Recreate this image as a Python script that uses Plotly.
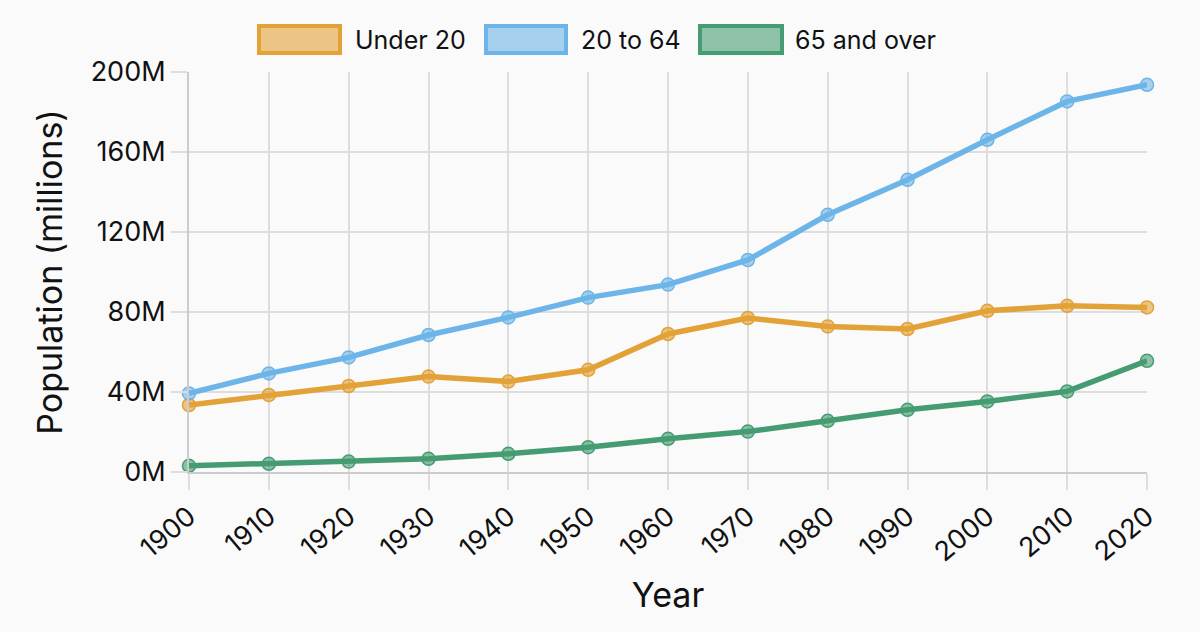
import plotly.graph_objects as go

years = [1900, 1910, 1920, 1930, 1940, 1950, 1960, 1970, 1980, 1990, 2000, 2010, 2020]
under_20 = [33.5, 38.5, 43.0, 47.7, 45.2, 51.1, 69.0, 77.0, 72.8, 71.5, 80.6, 83.1, 82.3]
age_20_64 = [39.3, 49.3, 57.3, 68.5, 77.3, 87.2, 93.7, 106.0, 128.6, 146.1, 166.1, 185.3, 193.6]
over_65 = [3.1, 4.1, 5.2, 6.6, 9.1, 12.4, 16.6, 20.2, 25.6, 31.1, 35.3, 40.3, 55.6]

series_names = ["Under 20", "20 to 64", "65 and over"]
y_tick_vals = [0, 40, 80, 120, 160, 200]
y_tick_text = ["0M", "40M", "80M", "120M", "160M", "200M"]
x_tick_vals = years
x_tick_text = [str(y) for y in years]

colors = ["#E2A237", "#6DB5E8", "#469C72"]
fills = ["rgba(226,162,55,0.6)", "rgba(109,181,232,0.6)", "rgba(70,156,114,0.6)"]

FONT = "Inter, Roboto, sans-serif"
W, H = 1200, 632
L, R, T, B = 189, 53, 72, 160
PW, PH = W - L - R, H - T - B

def px_x(px):
    return (px - L) / PW

def px_y(py):
    return (H - B - py) / PH

fig = go.Figure()
for name, vals, col, fc in zip(series_names, [under_20, age_20_64, over_65], colors, fills):
    fig.add_trace(go.Scatter(
        x=years, y=vals, name=name, mode="lines+markers",
        line=dict(color=col, width=5.5),
        marker=dict(size=13, color=fc, line=dict(color=col, width=1.5)),
        cliponaxis=False, showlegend=False,
    ))

# custom legend swatches (box style)
box_x = [(257, 342), (484, 568), (698, 784)]
text_x = [353, 579, 793]
shapes = []
annotations = []
for (x0, x1), tx, name, col, fc in zip(box_x, text_x, series_names, colors, fills):
    shapes.append(dict(type="rect", xref="paper", yref="paper",
                       x0=px_x(x0 + 2), x1=px_x(x1 - 2), y0=px_y(53), y1=px_y(26),
                       line=dict(color=col, width=4), fillcolor=fc, layer="above"))
    annotations.append(dict(xref="paper", yref="paper", x=px_x(tx), y=px_y(40),
                            xanchor="left", yanchor="middle", showarrow=False,
                            text=name, font=dict(family=FONT, size=25, color="#111")))

fig.update_layout(
    width=W, height=H,
    margin=dict(l=L, r=R, t=T, b=B),
    paper_bgcolor="#fafafa", plot_bgcolor="#fafafa",
    font=dict(family=FONT, color="#111"),
    shapes=shapes, annotations=annotations,
    showlegend=False,
)
fig.update_xaxes(
    range=[1900, 2020], tickvals=x_tick_vals, ticktext=x_tick_text,
    tickangle=-40, ticks="outside", ticklen=16, tickcolor="#dddddd", tickwidth=1.5,
    showgrid=True, gridcolor="#dddddd", gridwidth=1.5,
    showline=True, linecolor="#cccccc", linewidth=2,
    tickfont=dict(family=FONT, size=27, color="#111"),
    title=dict(text="Year", font=dict(family=FONT, size=34, color="#111"), standoff=16),
    zeroline=False, automargin=True,
)
fig.update_yaxes(
    range=[0, 200], tickvals=y_tick_vals, ticktext=y_tick_text,
    ticks="outside", ticklen=16, tickcolor="#dddddd", tickwidth=1.5,
    showgrid=True, gridcolor="#dddddd", gridwidth=1.5,
    showline=True, linecolor="#cccccc", linewidth=2,
    tickfont=dict(family=FONT, size=27, color="#111"),
    title=dict(text="Population (millions)", font=dict(family=FONT, size=34, color="#111"), standoff=18),
    zeroline=False, automargin=True,
)

fig.write_html(
    "out.html",
    config={"displayModeBar": False},
    post_script="document.body.style.margin='0';document.body.style.background='#fafafa';",
)
